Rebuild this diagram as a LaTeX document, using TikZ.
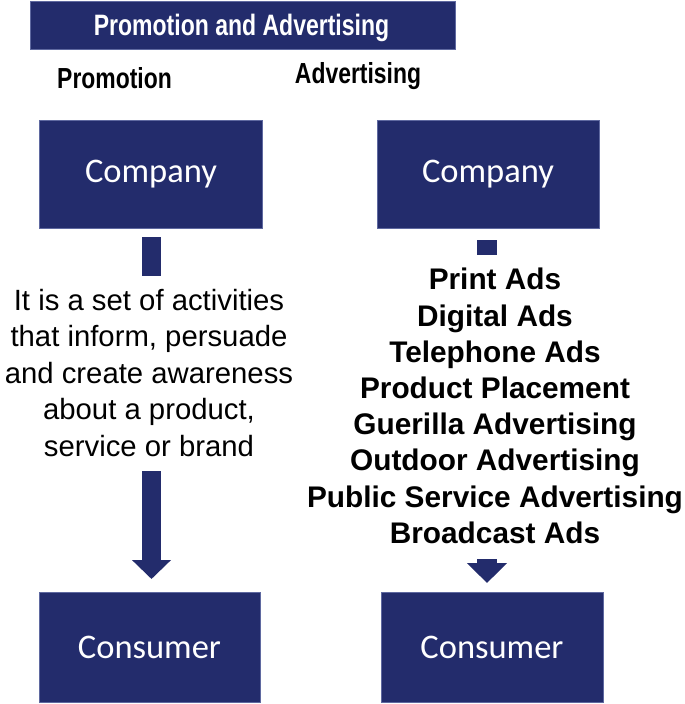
\documentclass[tikz,border=0pt]{standalone}
\usepackage{fontspec}
\setmainfont{Liberation Sans}
\newfontfamily\calfont{Carlito}
\newfontfamily\headfont[FakeStretch=0.78]{Liberation Sans}
\newfontfamily\subfont[FakeStretch=0.79]{Liberation Sans}
\usetikzlibrary{arrows.meta,calc}
\definecolor{navy}{RGB}{35,44,108}
\definecolor{navyedge}{RGB}{95,105,160}
\tikzset{
  bluebox/.style={rectangle, fill=navy, draw=navyedge, line width=0.8pt, text=white,
    font=\calfont\fontsize{34.5}{40}\selectfont, inner sep=0pt},
  blockarrow/.style={draw=navy, line width=19pt, -{Triangle[width=38pt,length=19pt]}},
  subtitle/.style={font=\subfont\bfseries\fontsize{29}{34}\selectfont, inner sep=0pt},
  desctext/.style={font=\fontsize{29.3}{36.5}\selectfont, align=center, inner sep=0pt},
  listtext/.style={font=\bfseries\fontsize{29.8}{36.2}\selectfont, align=center, inner sep=0pt}
}
\begin{document}
\begin{tikzpicture}[x=1pt,y=-1pt]
\useasboundingbox (0,0) rectangle (685,704);
% header
\node[rectangle, fill=navy, draw=navyedge, line width=0.8pt, minimum width=425pt, minimum height=48pt,
  inner sep=0pt] (head) at (242.5,25) {};
\node[text=white, font=\headfont\bfseries\fontsize{29.5}{34}\selectfont, inner sep=0pt, anchor=base]
  (headtxt) at (241.5,35) {Promotion and Advertising};
% subtitles
\node[subtitle] (subP) at (114.5,78) {Promotion};
\node[subtitle] (subA) at (358,76) {Advertising};
% company boxes
\node[bluebox, minimum width=223pt, minimum height=108pt] (compL) at (151,174) {Company};
\node[bluebox, minimum width=222pt, minimum height=108pt] (compR) at (488,174) {Company};
% consumer boxes
\node[bluebox, minimum width=221pt, minimum height=110pt] (consL) at (149.5,647) {Consumer};
\node[bluebox, minimum width=222pt, minimum height=110pt] (consR) at (492,647) {Consumer};
% texts
\node[desctext] (desc) at (149,373) {It is a set of activities\\that inform, persuade\\and create awareness\\about a product,\\service or brand};
\node[listtext] (list) at (495,406) {Print Ads\\Digital Ads\\Telephone Ads\\Product Placement\\Guerilla Advertising\\Outdoor Advertising\\Public Service Advertising\\Broadcast Ads};
% connectors
\fill[navy] (142,237) rectangle (161,276);
\fill[navy] (477,240) rectangle (497,255);
\coordinate (la) at (151.5,471);
\coordinate (lb) at (151.5,579);
\draw[blockarrow] (la) -- (lb);
\coordinate (ra) at (487,559);
\coordinate (rb) at (487,583);
\draw[draw=navy, line width=20pt, -{Triangle[width=39pt,length=20pt]}] (ra) -- (rb);
\end{tikzpicture}
\end{document}
